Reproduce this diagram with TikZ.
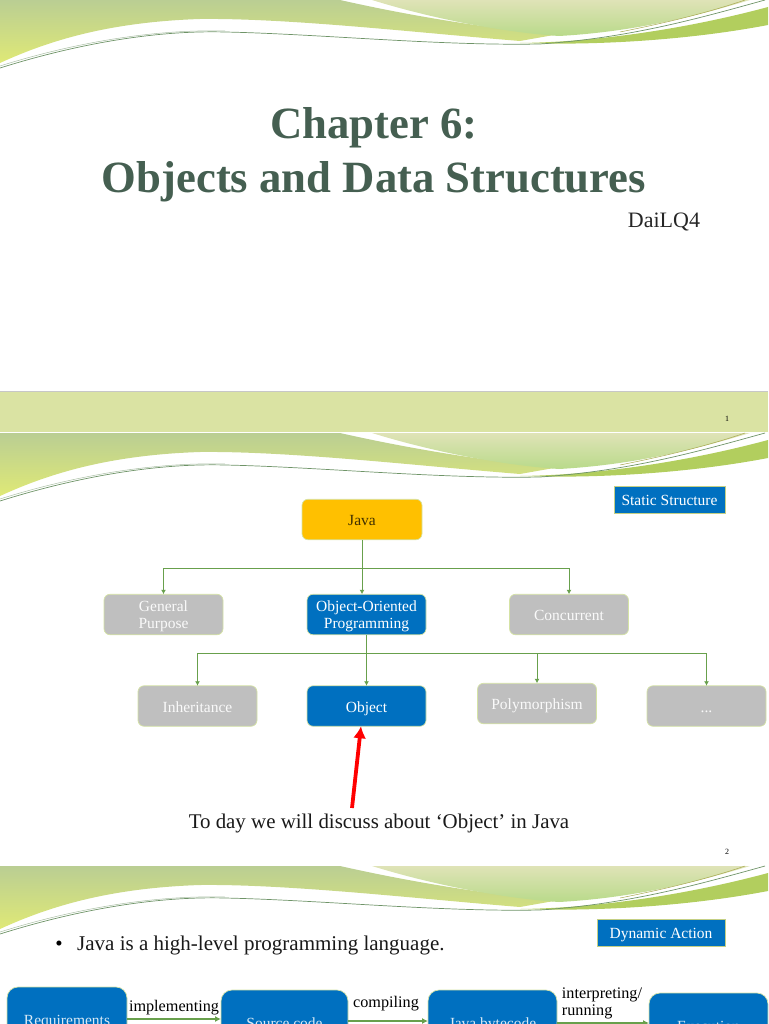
\documentclass[tikz,border=0pt]{standalone}
\usepackage{fontspec}
\setmainfont{Liberation Serif}
\usetikzlibrary{positioning, arrows.meta}

\definecolor{blueboxc}{HTML}{0070C0}
\definecolor{greyboxc}{HTML}{BFBFBF}
\definecolor{yellowboxc}{HTML}{FFC000}
\definecolor{edgec}{HTML}{D5E3A5}
\definecolor{linkc}{HTML}{68A04C}
\definecolor{titlec}{HTML}{455F51}
\definecolor{barc}{HTML}{DAE3A3}
\definecolor{bandtop}{HTML}{BACE93}
\definecolor{bandlow}{HTML}{DFE976}
\definecolor{paletop}{HTML}{DFE3B7}
\definecolor{palelow}{HTML}{B9DA8A}
\definecolor{stripc}{HTML}{B2CE5E}
\definecolor{thlinec}{HTML}{6F9468}
\definecolor{olivec}{HTML}{A8A850}

\tikzset{
  header/.pic={
    % Large left swoosh
    \path[top color=bandtop, bottom color=bandlow]
      (0,63) .. controls (50,40) and (110,22) .. (200,19)
      .. controls (290,18) and (420,33) .. (520,41)
      -- (554,35) .. controls (490,28) and (420,18) .. (340,0)
      -- (0,0) -- cycle;
    % Pale right swoosh
    \path[top color=paletop, bottom color=palelow]
      (372,0) .. controls (430,18) and (500,32) .. (559,36)
      .. controls (630,32) and (690,18) .. (750,0) -- cycle;
    % Green strip
    \fill[stripc] (520,43) .. controls (600,42) and (690,28) .. (768,7)
      -- (768,25) .. controls (700,38) and (610,46) .. (520,43) -- cycle;
    % Fine lines
    \draw[thlinec, line width=0.7pt] (0,68) .. controls (70,46) and (150,30) .. (225,32)
      .. controls (320,34) and (440,46) .. (540,44)
      .. controls (630,38) and (700,18) .. (765,0);
    \draw[thlinec!60, line width=0.5pt] (0,66) .. controls (70,44) and (150,29) .. (225,31);
    \draw[olivec, line width=0.5pt] (620,32) .. controls (670,22) and (710,12) .. (745,0);
  }
}

\begin{document}
\begin{tikzpicture}[
  x=1pt, y=-1pt,
  box/.style={rounded corners=6pt, draw=edgec, line width=0.7pt, minimum width=119pt, minimum height=40.5pt, font=\fontsize{15.5}{17.5}\selectfont, align=center, inner xsep=1pt, inner ysep=0pt, outer sep=0pt, text height=12pt, text depth=0pt},
  twoline/.style={text height=28pt, text depth=0pt},
  greybox/.style={box, fill=greyboxc, text=white!92!greyboxc},
  bluebox/.style={box, fill=blueboxc, text=white},
  flowbox/.style={bluebox, rounded corners=11pt, minimum height=70pt, anchor=north west, text=white!85!blueboxc, text height=9.5pt, text depth=2.5pt},
  tagbox/.style={draw=edgec!80!olive, line width=0.8pt, fill=blueboxc, text=white, font=\fontsize{15.5}{17}\selectfont, minimum height=27.5pt, outer sep=0pt, inner sep=1pt, text height=10.5pt, text depth=0pt},
  link/.style={draw=linkc, line width=1pt, -{Latex[length=4.5pt, width=5pt]}},
  flowlink/.style={draw=linkc, line width=1.8pt, -{Latex[length=6pt, width=6pt]}},
  flowlabel/.style={font=\fontsize{16.2}{17}\selectfont, align=left, inner sep=0pt},
  >=Stealth
]
\clip (0,0) rectangle (768,1024);

% Slide backgrounds
\pic at (0,0) {header};
\pic at (0,433) {header};
\pic at (0,866) {header};

% Slide one
\fill[barc] (0,391) rectangle (768,432);
\draw[black!22, line width=1.4pt] (0,391.5) -- (768,391.5);
\node[font=\bfseries\fontsize{44.7}{54}\selectfont, text=titlec, align=center] (title) at (374,155) {Chapter 6:\\Objects and Data Structures};
\node[font=\fontsize{22}{25}\selectfont, text=black!85] (author) at (664,222) {DaiLQ4};
\node[font=\fontsize{8}{10}\selectfont] (pageone) at (727,419) {1};

% Slide two: hierarchy
\node[box, fill=yellowboxc, text=black!75!yellowboxc, minimum width=120pt] (java) at (362,519.5) {Java};
\node[tagbox, minimum width=111pt] (static) at (669.5,500) {Static Structure};

\node[bluebox, twoline, below=54.5pt of java, xshift=4.5pt] (oop) {Object-Oriented\\Programming};
\node[greybox, twoline, left=84pt of oop] (general) {General\\Purpose};
\node[greybox, right=83.5pt of oop] (concurrent) {Concurrent};

\node[bluebox, below=51pt of oop] (object) {Object};
\node[greybox, left=50pt of object] (inherit) {Inheritance};
\node[greybox, anchor=center] (poly) at (537,703.5) {Polymorphism};
\node[greybox, right=221pt of object] (more) {...};

\coordinate (barjava) at (362,568);
\coordinate (baroop) at (366.5,653);

% Edges
\draw[link] (java.south) -- (java |- oop.north);
\draw[link] (barjava) -| (general.north);
\draw[link] (barjava) -| (concurrent.north);
\draw[link] (oop.south) -- (object.north);
\draw[link] (baroop) -| (inherit.north);
\draw[link] (baroop) -| (poly.north);
\draw[link] (baroop) -| (more.north);

% Red pointer and caption
\node[font=\fontsize{20.9}{23}\selectfont, text=black!90] (caption) at (379,823) {To day we will discuss about ‘Object’ in Java};
\coordinate (pointer) at (352,808);
\draw[draw=red, line width=3.8pt, -{Latex[length=12pt, width=13pt]}] (pointer) -- (object.south -| 361,0);
\node[font=\fontsize{8}{10}\selectfont] (pagetwo) at (727,852) {2};

% Slide three: flow
\node[tagbox, minimum width=128pt] (dynamic) at (661,933) {Dynamic Action};
\node[font=\fontsize{21}{23}\selectfont, text=black!90, anchor=base west, inner sep=0pt] (intro) at (77,950) {Java is a high-level programming language.};
\node[font=\fontsize{21}{23}\selectfont, anchor=base, inner sep=0pt] (bullet) at (59,950) {•};

\node[flowbox, minimum width=120pt] (reqs) at (7,987) {Requirements};
\node[flowbox, minimum width=127pt] (source) at (221,990) {Source code};
\node[flowbox, minimum width=129pt] (bytecode) at (428,990) {Java bytecode};
\node[flowbox, minimum width=119pt] (exec) at (649,993) {Execution};

\draw[flowlink] (reqs.east |- 0,1019) -- node[flowlabel, above=3pt] {implementing} (source.west |- 0,1019);
\draw[flowlink] (source.east |- 0,1021) -- node[flowlabel, above=9pt, xshift=-2pt] {compiling} (bytecode.west |- 0,1021);
\draw[flowlink] (bytecode.east |- 0,1023) -- node[flowlabel, above=3pt, xshift=-1pt] {interpreting/\\running} (exec.west |- 0,1023);
\end{tikzpicture}
\end{document}
